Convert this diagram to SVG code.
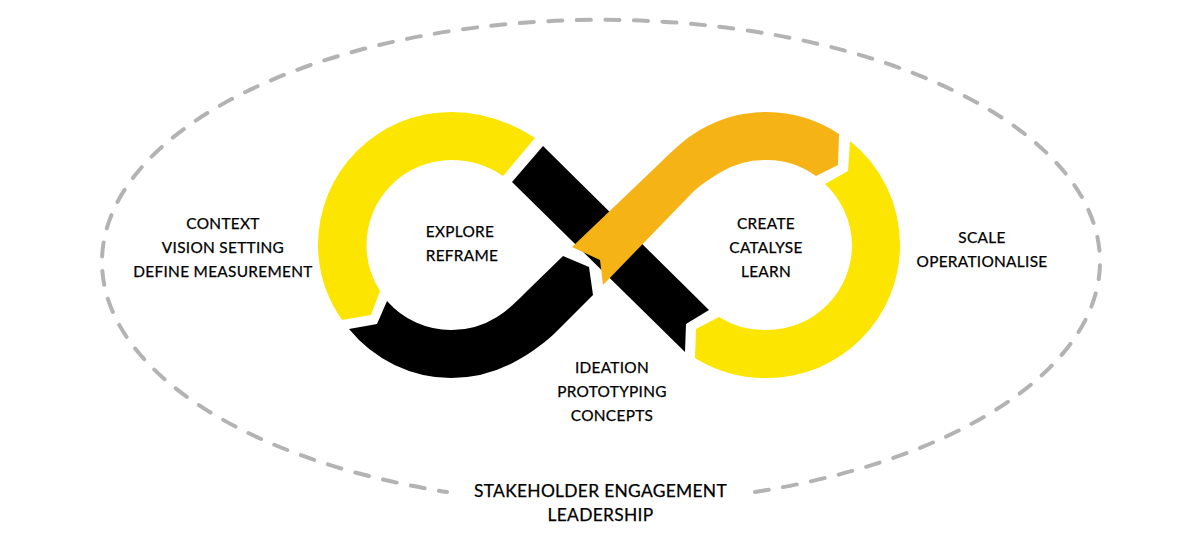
<svg xmlns="http://www.w3.org/2000/svg" width="1200" height="553" viewBox="0 0 1200 553">
<style>
text{font-family:"Lato","Noto Sans","Liberation Sans",sans-serif;font-size:15.4px;fill:#000;stroke:#000;stroke-width:.25px;text-anchor:middle;letter-spacing:.3px}
.big{font-size:17.4px}
.y{fill:#fce500}.k{fill:#000}.o{fill:#f5b316}
</style>
<rect width="1200" height="553" fill="#fff"/>
<g id="connectors">
<path id="boundary" d="M755,492 A499,242 0 1 0 447,492" fill="none" stroke="#b3b3b3" stroke-width="4" stroke-linecap="round" stroke-dasharray="14 14.5"/>
</g>
<g id="loop-yellow-left"><path class="y" d="M535,138 Q495,112 451,112 A133,133 0 0 0 318,245 A133,133 0 0 0 342,320 L371,315 L380,291 A85,85 0 0 1 366.500,245 A85,85 0 0 1 451.500,160 Q480,160 503,176 Z"/></g>
<g id="loop-black-lower"><path class="k" d="M349,329 L377,324 L387,301 A85,85 0 0 0 451.500,330 A85,85 0 0 0 497,317 C507,311 516,302 525,293 L563,256 L589,267 L593,295 L558,330 C546,342 532,352 518,360 A133,133 0 0 1 451,378 A133,133 0 0 1 349,329 Z"/></g>
<g id="loop-black-diagonal"><path class="k" d="M543,146 L709,310 L686,324 L685,352 L512,182 Z"/></g>
<g id="loop-orange"><path class="o" d="M572,247 L600,260 L603,285 L692,193 C700,185 711,178 721,172 A85,85 0 0 1 767,160 A85,85 0 0 1 816,176 L838,165 L839,134 A133,133 0 0 0 767,112 A133,133 0 0 0 700,130 C686,138 672,151 660,163 Z"/></g>
<g id="loop-yellow-right"><path class="y" d="M850,141 L848,171 L825,184 A85,85 0 0 1 852,245 A85,85 0 0 1 767,330 A85,85 0 0 1 719,317 L696,329 L695,358 A133,133 0 0 0 767,378 A133,133 0 0 0 900,245 A133,133 0 0 0 850,141 Z"/></g>
<g id="label-context"><text x="223" y="229">CONTEXT</text><text x="223" y="253">VISION SETTING</text><text x="223" y="277">DEFINE MEASUREMENT</text></g>
<g id="label-explore"><text x="460" y="237">EXPLORE</text><text x="462" y="261">REFRAME</text></g>
<g id="label-create"><text x="766" y="229">CREATE</text><text x="766" y="253">CATALYSE</text><text x="766" y="277">LEARN</text></g>
<g id="label-scale"><text x="982" y="243">SCALE</text><text x="982" y="267">OPERATIONALISE</text></g>
<g id="label-ideation"><text x="612" y="373">IDEATION</text><text x="612" y="397">PROTOTYPING</text><text x="612" y="421">CONCEPTS</text></g>
<g id="label-stakeholder"><text class="big" x="600.500" y="496.500">STAKEHOLDER ENGAGEMENT</text><text class="big" x="600.500" y="520.500">LEADERSHIP</text></g>
</svg>
